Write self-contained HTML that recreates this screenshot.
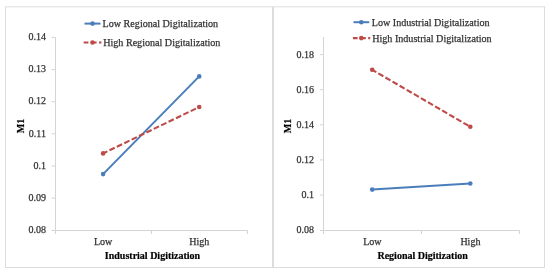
<!DOCTYPE html>
<html><head><meta charset="utf-8"><style>
html,body{margin:0;padding:0;background:#fff;width:550px;height:275px;overflow:hidden}
svg{display:block;filter:blur(0.3px)}
text{font-family:"Liberation Serif","Times New Roman",serif;font-size:10px;fill:#333;stroke:#333;stroke-width:0.25}
.t{font-weight:bold;fill:#000;stroke:#000;stroke-width:0.2}
.ax{stroke:#d4d4d4;stroke-width:1;fill:none}
.fr{stroke:#dcdcdc;stroke-width:1;fill:none}
.bl{stroke:#4a7ebb;stroke-width:2;fill:none}
.rd{stroke:#be4b48;stroke-width:2.1;fill:none;stroke-dasharray:5.8 2.4;stroke-dashoffset:1.1}
.bm{fill:#4a7ebb}
.rm{fill:#be4b48}
.lg{font-size:10.1px}
</style></head><body>
<svg width="550" height="275" viewBox="0 0 550 275">
<!-- frames -->
<rect class="fr" x="5.5" y="6.8" width="267" height="260.7"/>
<rect class="fr" x="273.5" y="6.8" width="271" height="260.7"/>

<!-- LEFT CHART -->
<g>
<path class="ax" d="M55.5 37.3V230.5H247.5M51.5 37.5H55.5M51.5 69.6H55.5M51.5 101.7H55.5M51.5 133.8H55.5M51.5 166H55.5M51.5 198.1H55.5M51.5 230.5H55.5M55.5 230.5V234M151.5 230.5V234M247.5 230.5V234"/>
<g text-anchor="end">
<text x="46" y="40.2">0.14</text>
<text x="46" y="72.3">0.13</text>
<text x="46" y="104.4">0.12</text>
<text x="46" y="136.5">0.11</text>
<text x="46" y="168.7">0.1</text>
<text x="46" y="200.8">0.09</text>
<text x="46" y="232.9">0.08</text>
</g>
<text x="103.1" y="245.3" text-anchor="middle">Low</text>
<text x="199.2" y="245.3" text-anchor="middle">High</text>
<text class="t" x="152.5" y="258.7" text-anchor="middle">Industrial Digitization</text>
<text class="t" transform="translate(24,126) rotate(-90)" text-anchor="middle">M1</text>
<!-- data -->
<path class="bl" d="M103.1 174.1L199.2 76.4"/>
<path class="rd" d="M103.1 153.4L199.2 107"/>
<circle class="bm" cx="103.1" cy="174.1" r="2.3"/>
<circle class="bm" cx="199.2" cy="76.4" r="2.3"/>
<circle class="rm" cx="103.1" cy="153.4" r="2.3"/>
<circle class="rm" cx="199.2" cy="107" r="2.3"/>
<!-- legend -->
<path class="bl" d="M84.5 23.6H100.5"/>
<circle class="bm" cx="92.5" cy="23.6" r="2.3"/>
<path class="rd" d="M83.7 42.5H101.4"/>
<circle class="rm" cx="92.5" cy="42.5" r="2.3"/>
<text x="102.6" y="27.3" class="lg">Low Regional Digitalization</text>
<text x="103.2" y="46" class="lg">High Regional Digitalization</text>
</g>

<!-- RIGHT CHART -->
<g>
<path class="ax" d="M323.5 37V230.5H519.5M320 54.6H323.5M320 89.7H323.5M320 124.8H323.5M320 159.9H323.5M320 195.1H323.5M320 230.5H323.5M323.5 230.5V234M421.5 230.5V234M519.5 230.5V234"/>
<g text-anchor="end">
<text x="314" y="57.8">0.18</text>
<text x="314" y="92.9">0.16</text>
<text x="314" y="128">0.14</text>
<text x="314" y="163.1">0.12</text>
<text x="314" y="198.3">0.1</text>
<text x="314" y="233.4">0.08</text>
</g>
<text x="372.4" y="245.3" text-anchor="middle">Low</text>
<text x="470.4" y="245.3" text-anchor="middle">High</text>
<text class="t" x="422.6" y="258.7" text-anchor="middle">Regional Digitization</text>
<text class="t" transform="translate(290.5,126) rotate(-90)" text-anchor="middle">M1</text>
<!-- data -->
<path class="bl" d="M372.2 189.6L470.3 183.5"/>
<path class="rd" d="M372.2 69.8L470.3 126.8"/>
<circle class="bm" cx="372.2" cy="189.6" r="2.3"/>
<circle class="bm" cx="470.3" cy="183.5" r="2.3"/>
<circle class="rm" cx="372.2" cy="69.8" r="2.3"/>
<circle class="rm" cx="470.3" cy="126.8" r="2.3"/>
<!-- legend -->
<path class="bl" d="M353.5 22.2H369.2"/>
<circle class="bm" cx="361.3" cy="22.2" r="2.3"/>
<path class="rd" d="M352.9 38.1H370.2"/>
<circle class="rm" cx="361.3" cy="38.1" r="2.3"/>
<text x="371.8" y="25.8" class="lg">Low Industrial Digitalization</text>
<text x="372.2" y="41.5" class="lg">High Industrial Digitalization</text>
</g>
</svg>
</body></html>
